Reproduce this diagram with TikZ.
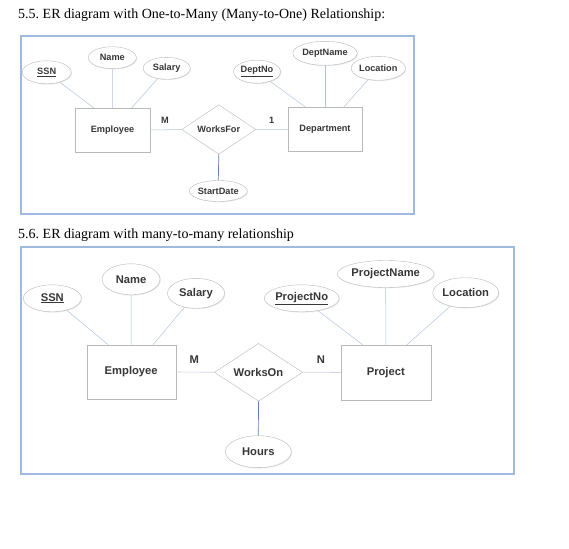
\documentclass[tikz,border=0pt]{standalone}
\usepackage{fontspec}
\setmainfont{Liberation Serif}
\newfontfamily\diafont{Liberation Sans}
\usetikzlibrary{shapes.geometric,shadows,calc}
\frenchspacing
\definecolor{framecol}{RGB}{160,185,222}
\definecolor{attrline}{RGB}{178,196,220}
\definecolor{relline}{RGB}{95,125,175}
\definecolor{lightline}{RGB}{205,212,222}
\definecolor{shapeline}{RGB}{185,185,185}
\definecolor{txt}{RGB}{55,55,55}
\tikzset{
  x=1pt, y=-1pt,
  shade1/.style={drop shadow={opacity=0.18, shadow xshift=0.8pt, shadow yshift=-0.8pt}},
  attr/.style={ellipse, draw=shapeline, fill=white, inner sep=0pt, text=txt, shade1},
  ent/.style={rectangle, draw=shapeline, fill=white, inner sep=0pt, text=txt, shade1},
  rel/.style={diamond, draw=shapeline, fill=white, inner sep=0pt, text=txt},
  card/.style={text=txt, inner sep=0pt},
  smallf/.style={font=\diafont\bfseries\fontsize{9.2}{11}\selectfont},
  bigf/.style={font=\diafont\bfseries\fontsize{11.2}{13}\selectfont},
  aline/.style={draw=attrline, line width=0.5pt},
  lline/.style={draw=lightline, line width=0.6pt},
  rline/.style={draw=relline, line width=0.7pt},
  titlef/.style={anchor=base west, inner sep=0pt, font=\fontsize{14}{16}\selectfont},
  framebox/.style={draw=framecol, line width=1.2pt}
}
\begin{document}
\begin{tikzpicture}
\useasboundingbox (0,0) rectangle (569,548);
% titles
\node[titlef] (t1) at (18,18.3) {5.5. ER diagram with One-to-Many (Many-to-One) Relationship:};
\node[titlef] (t2) at (18,238.3) {5.6. ER diagram with many-to-many relationship};
% frames
\draw[framebox] (21,36) rectangle (414,214);
\draw[framebox] (21,247) rectangle (514,474);

% ---------- diagram 1 ----------
\begin{scope}[smallf]
\node[attr, minimum width=49pt, minimum height=23pt] (ssnA) at (46.7,72.3) {\underline{SSN}};
\node[attr, minimum width=48pt, minimum height=22pt] (nameA) at (112.3,57.7) {Name};
\node[attr, minimum width=47pt, minimum height=22pt] (salA) at (166.7,68.3) {Salary};
\node[attr, minimum width=47pt, minimum height=23pt] (dnoA) at (257,71.7) {\underline{DeptNo}};
\node[attr, minimum width=57pt, minimum height=24pt] (dnameA) at (325,53.3) {DeptName};
\node[attr, minimum width=47pt, minimum height=24pt] (locA) at (378.3,68.3) {Location};
\node[ent, minimum width=75pt, minimum height=43.4pt] (empA) at (112.5,130) {Employee};
\node[ent, minimum width=73.4pt, minimum height=43.3pt] (deptA) at (325,129.3) {Department};
\node[rel, minimum width=74pt, minimum height=41pt] (wfA) at (218.8,129.5) {WorksFor};
\node[attr, minimum width=55pt, minimum height=21pt] (sdA) at (218.3,191) {StartDate};
\node[card] (mA) at (165,120) {M};
\node[card] (oneA) at (271.7,120) {1};
\end{scope}
\draw[aline] (ssnA) -- ([xshift=-18.5pt]empA.north);
\draw[aline] (nameA) -- (empA.north);
\draw[aline] (salA) -- ([xshift=19pt]empA.north);
\draw[aline] (dnoA) -- ([xshift=-19pt]deptA.north);
\draw[aline] (dnameA) -- (deptA.north);
\draw[aline] (locA) -- ([xshift=18.3pt]deptA.north);
\draw[aline] (empA.east) -- (wfA.west);
\draw[aline] (wfA.east) -- (deptA.west);
\draw[rline] (wfA.south) -- (sdA.north);

% ---------- diagram 2 ----------
\begin{scope}[bigf]
\node[attr, minimum width=58pt, minimum height=27pt] (ssnB) at (52.3,298.3) {\underline{SSN}};
\node[attr, minimum width=58pt, minimum height=31pt] (nameB) at (131,279.3) {Name};
\node[attr, minimum width=57pt, minimum height=30pt] (salB) at (196,293.3) {Salary};
\node[attr, minimum width=58pt, minimum height=27pt] (pnoB) at (301.7,298.3) {\underline{ProjectNo}};
\node[attr, minimum width=82pt, minimum height=27pt] (pnameB) at (385.7,274) {ProjectName};
\node[attr, minimum width=58pt, minimum height=30pt] (locB) at (465.7,292.7) {Location};
\node[ent, minimum width=89pt, minimum height=54.3pt] (empB) at (131.2,372) {Employee};
\node[ent, minimum width=90pt, minimum height=55pt] (projB) at (385.8,372.5) {Project};
\node[rel, minimum width=88pt, minimum height=53pt] (woB) at (258.5,372.3) {WorksOn};
\node[attr, minimum width=66pt, minimum height=32pt] (hrB) at (258.3,451.7) {Hours};
\node[card] (mB) at (194.3,360) {M};
\node[card] (nB) at (321,360) {N};
\end{scope}
\draw[aline] (ssnB) -- ([xshift=-23pt]empB.north);
\draw[aline] (nameB) -- (empB.north);
\draw[aline] (salB) -- ([xshift=22pt]empB.north);
\draw[aline] (pnoB) -- ([xshift=-23pt]projB.north);
\draw[aline] (pnameB) -- (projB.north);
\draw[aline] (locB) -- ([xshift=21pt]projB.north);
\draw[lline] (empB.east) -- (woB.west);
\draw[lline] (woB.east) -- (projB.west);
\draw[rline] (woB.south) -- (hrB.north);
\end{tikzpicture}
\end{document}
